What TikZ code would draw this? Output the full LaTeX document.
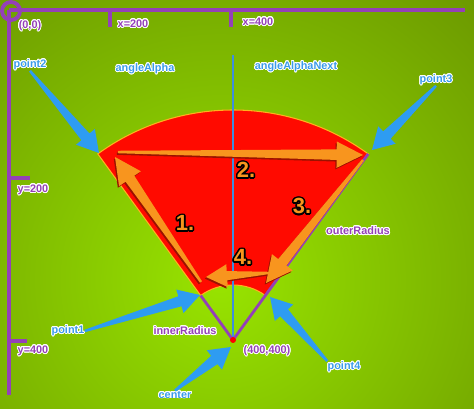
\documentclass[tikz,border=0pt]{standalone}
\usepackage{fontspec}
\setsansfont{Liberation Sans}
\usepackage{contour}
\usetikzlibrary{calc}

\definecolor{bgdark}{HTML}{475A00}
\definecolor{bglight}{HTML}{98E400}
\definecolor{segred}{HTML}{FF0A00}
\definecolor{segedge}{HTML}{FFB21E}
\definecolor{axpurple}{HTML}{9440B8}
\definecolor{lblblue}{HTML}{3A9BEA}
\definecolor{ptrblue}{HTML}{2E9CF2}
\definecolor{ctrblue}{HTML}{3C8EE0}
\definecolor{arrorange}{HTML}{F8951E}
\definecolor{arrshade}{HTML}{9A1200}

\contourlength{0.5pt}
\newcommand\bluetext[1]{\contour{white}{\textcolor{lblblue}{#1}}}
\newcommand\purpletext[1]{\contour{white}{\textcolor{axpurple}{#1}}}
\newcommand\numtext[1]{{\contourlength{0.9pt}\contour{black}{\textcolor{arrorange}{#1}}}}

% tapered fat arrow: [style]{tail}{tip}{head length}{head half width}{shaft half width}
\newcommand\fatarrow[6][]{%
  \coordinate (fa-t) at (#2);
  \coordinate (fa-p) at (#3);
  \coordinate (fa-h) at ($(fa-p)!#4!(fa-t)$);
  \fill[#1] ($(fa-t)!0.7pt!90:(fa-p)$) -- ($(fa-h)!#6!90:(fa-p)$) -- ($(fa-h)!#5!90:(fa-p)$)
    -- (fa-p) -- ($(fa-h)!#5!-90:(fa-p)$) -- ($(fa-h)!#6!-90:(fa-p)$) -- ($(fa-t)!0.7pt!-90:(fa-p)$) -- cycle;
}

\begin{document}
\begin{tikzpicture}[x=0.02cm,y=0.02cm,
  axis/.style={axpurple,line width=2.2pt},
  radline/.style={axpurple,line width=1.6pt},
  lbl/.style={font=\sffamily\bfseries\fontsize{6.2}{7}\selectfont,inner sep=0pt},
  num/.style={font=\sffamily\bfseries\fontsize{12.5}{14}\selectfont,inner sep=0pt}]
  \pgfmathsetmacro\rout{230}
  \pgfmathsetmacro\rin{55}
  \pgfmathsetmacro\aleft{126}
  \pgfmathsetmacro\aright{54}

% background
  \useasboundingbox (0,0) rectangle (474,409);
  \begin{scope}
    \clip (0,0) rectangle (474,409);
    \shade[inner color=bglight,outer color=bgdark] (220,129) circle (700);
  \end{scope}

% corner points of the segment
  \coordinate (C) at (233,69);
  \coordinate (p1) at ($(C)+(\aleft:\rin)$);
  \coordinate (p2) at ($(C)+(\aleft:\rout)$);
  \coordinate (p3) at ($(C)+(\aright:\rout)$);
  \coordinate (p4) at ($(C)+(\aright:\rin)$);

% segment
  \filldraw[fill=segred,draw=segedge,line width=0.6pt] (p2) arc[start angle=\aleft,end angle=\aright,radius=\rout]
    -- (p4) arc[start angle=\aright,end angle=\aleft,radius=\rin] -- cycle;

% axes
  \draw[axis] (9,399) -- (465,399);
  \draw[axis] (9,399) -- (9,14);
  \draw[axis] (110,399) -- (110,382);
  \draw[axis] (231,399) -- (231,382);
  \draw[axis] (9,231) -- (30,231);
  \draw[axis] (9,68) -- (27,68);
  \draw[axis] (11,398) circle (9);

% centre line and radii
  \coordinate (ctop) at ($(C)+(0,285)$);
  \draw[ctrblue,line width=1.6pt] (ctop) -- (C);
  \draw[radline] (C) -- (p1);
  \draw[radline] (C) -- (p3);
  \fill[red] (C) circle (3);

% orange path arrows
  \coordinate (a1s) at (201,127);
  \coordinate (a1e) at (115,252);
  \coordinate (a2s) at (118,257);
  \coordinate (a2e) at (363,254);
  \coordinate (a3s) at (363,249);
  \coordinate (a3e) at (266,126);
  \coordinate (a4s) at (268,136);
  \coordinate (a4e) at (206,132);
  \fatarrow[arrshade,transform canvas={shift={(-0.7pt,-0.9pt)}}]{a1s}{a1e}{15pt}{7.5pt}{3pt}
  \fatarrow[arrorange]{a1s}{a1e}{15pt}{7.5pt}{3pt}
  \fatarrow[arrshade,transform canvas={shift={(-0.7pt,-0.9pt)}}]{a2s}{a2e}{15pt}{7.5pt}{3pt}
  \fatarrow[arrorange]{a2s}{a2e}{15pt}{7.5pt}{3pt}
  \fatarrow[arrshade,transform canvas={shift={(-0.7pt,-0.9pt)}}]{a3s}{a3e}{15pt}{7.5pt}{3pt}
  \fatarrow[arrorange]{a3s}{a3e}{15pt}{7.5pt}{3pt}
  \fatarrow[arrshade,transform canvas={shift={(-0.7pt,-0.9pt)}}]{a4s}{a4e}{12pt}{6.5pt}{2.6pt}
  \fatarrow[arrorange]{a4s}{a4e}{12pt}{6.5pt}{2.6pt}

% step numbers
  \node[num] (n1) at (185,185) {\numtext{1.}};
  \node[num] (n2) at (246,238) {\numtext{2.}};
  \node[num] (n3) at (302,202) {\numtext{3.}};
  \node[num] (n4) at (243,151) {\numtext{4.}};

% axis labels
  \node[lbl] (o) at (30,383) {\purpletext{(0,0)}};
  \node[lbl] (x200) at (133,385) {\purpletext{x=200}};
  \node[lbl] (x400) at (258,387) {\purpletext{x=400}};
  \node[lbl] (y200) at (33,219) {\purpletext{y=200}};
  \node[lbl] (y400) at (33,58) {\purpletext{y=400}};
  \node[lbl] (cxy) at (267,58) {\purpletext{(400,400)}};
  \node[lbl] (rin) at (185,78) {\purpletext{innerRadius}};
  \node[lbl] (rout) at (358,178) {\purpletext{outerRadius}};

% point labels
  \node[lbl] (aa) at (145,340) {\bluetext{angleAlpha}};
  \node[lbl] (aan) at (296,342) {\bluetext{angleAlphaNext}};
  \node[lbl] (lp1) at (68,78) {\bluetext{point1}};
  \node[lbl] (lp2) at (30,344) {\bluetext{point2}};
  \node[lbl] (lp3) at (436,329) {\bluetext{point3}};
  \node[lbl] (lp4) at (344,42) {\bluetext{point4}};
  \node[lbl] (lc) at (175,14) {\bluetext{center}};

% blue pointers
  \coordinate (t1) at (200,114);
  \coordinate (t2) at (99,256);
  \coordinate (t3) at (372,259);
  \coordinate (t4) at (270,112);
  \coordinate (tc) at (231,62);
  \fatarrow[ptrblue]{lp1.east}{t1}{12pt}{7pt}{3pt}
  \fatarrow[ptrblue]{lp2.south}{t2}{12pt}{7pt}{3pt}
  \fatarrow[ptrblue]{lp3.south}{t3}{12pt}{7pt}{3pt}
  \fatarrow[ptrblue]{lp4.north west}{t4}{12pt}{7pt}{3pt}
  \fatarrow[ptrblue]{lc.north}{tc}{12pt}{7pt}{3pt}

\end{tikzpicture}
\end{document}
